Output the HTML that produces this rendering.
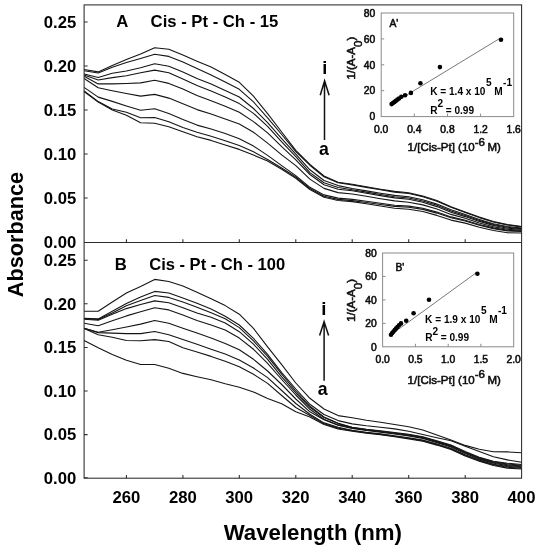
<!DOCTYPE html>
<html><head><meta charset="utf-8"><title>Absorbance spectra</title>
<style>html,body{margin:0;padding:0;background:#fff}svg{display:block}text{font-family:"Liberation Sans",Arial,sans-serif;fill:#000}.b{font-weight:bold}.c{fill:none;stroke:#151515;stroke-width:1.1;stroke-linejoin:round}.ax{fill:none;stroke:#2a2a2a;stroke-width:1.05}.g{fill:none;stroke:#8a8a8a;stroke-width:1}.s{font-size:10.3px;stroke:#111;stroke-width:0.55px}.l{font-size:11.5px}.k{font-weight:bold;font-size:10.1px;stroke:none}</style></head><body>
<svg width="539" height="550" viewBox="0 0 539 550">
<rect width="539" height="550" fill="#fff"/>
<g class="c">
<polyline points="84.1,91.5 98.2,102.0 112.3,109.9 126.4,115.3 140.6,122.8 154.7,123.2 168.8,126.7 182.9,131.8 197.0,136.8 211.1,140.4 225.2,145.0 239.3,149.4 253.5,155.1 267.6,161.0 281.7,169.2 295.8,178.3 309.9,189.5 324.0,197.3 338.1,200.5 352.2,201.6 366.4,203.8 380.5,206.0 394.6,208.2 408.7,209.3 422.8,211.5 436.9,215.4 451.0,220.1 465.2,223.1 479.3,227.3 493.4,230.5 507.5,232.8 521.6,233.0"/>
<polyline points="84.1,91.0 98.2,101.6 112.3,109.0 126.4,112.3 140.6,117.7 154.7,117.5 168.8,121.8 182.9,127.6 197.0,132.2 211.1,136.3 225.2,140.7 239.3,145.6 253.5,151.8 267.6,159.5 281.7,168.0 295.8,177.0 309.9,188.5 324.0,196.2 338.1,199.4 352.2,200.6 366.4,202.5 380.5,204.5 394.6,206.4 408.7,207.3 422.8,209.4 436.9,213.1 451.0,217.8 465.2,221.0 479.3,225.2 493.4,228.6 507.5,230.9 521.6,231.4"/>
<polyline points="84.1,87.4 98.2,97.1 112.3,101.4 126.4,106.0 140.6,110.3 154.7,108.8 168.8,113.6 182.9,119.4 197.0,125.1 211.1,129.0 225.2,133.5 239.3,138.7 253.5,146.1 267.6,155.4 281.7,165.6 295.8,175.6 309.9,187.3 324.0,194.9 338.1,198.1 352.2,199.4 366.4,201.3 380.5,203.3 394.6,205.2 408.7,206.1 422.8,208.3 436.9,212.1 451.0,216.9 465.2,220.2 479.3,224.5 493.4,227.9 507.5,230.3 521.6,231.0"/>
<polyline points="84.1,78.5 98.2,87.8 112.3,90.7 126.4,93.5 140.6,96.1 154.7,94.4 168.8,98.1 182.9,103.8 197.0,109.6 211.1,114.0 225.2,119.1 239.3,124.0 253.5,132.2 267.6,143.1 281.7,154.9 295.8,165.6 309.9,179.1 324.0,188.4 338.1,192.6 352.2,194.0 366.4,196.3 380.5,198.7 394.6,200.9 408.7,202.2 422.8,204.9 436.9,209.0 451.0,214.4 465.2,218.3 479.3,223.0 493.4,226.7 507.5,229.3 521.6,230.3"/>
<polyline points="84.1,76.3 98.2,83.9 112.3,83.9 126.4,83.5 140.6,82.9 154.7,80.2 168.8,83.4 182.9,89.1 197.0,95.6 211.1,100.8 225.2,106.2 239.3,112.2 253.5,121.6 267.6,132.9 281.7,146.7 295.8,159.8 309.9,174.5 324.0,184.7 338.1,189.3 352.2,190.7 366.4,193.2 380.5,195.6 394.6,197.9 408.7,199.3 422.8,202.2 436.9,206.6 451.0,212.2 465.2,216.6 479.3,221.4 493.4,225.4 507.5,228.2 521.6,229.4"/>
<polyline points="84.1,75.0 98.2,80.0 112.3,77.6 126.4,75.7 140.6,72.7 154.7,70.1 168.8,72.7 182.9,79.0 197.0,85.5 211.1,91.0 225.2,97.0 239.3,103.6 253.5,113.4 267.6,126.4 281.7,141.8 295.8,156.6 309.9,172.6 324.0,182.8 338.1,187.5 352.2,189.7 366.4,192.1 380.5,194.5 394.6,196.7 408.7,198.0 422.8,201.0 436.9,205.3 451.0,211.0 465.2,215.5 479.3,220.4 493.4,224.5 507.5,227.3 521.6,228.7"/>
<polyline points="84.1,74.0 98.2,77.5 112.3,73.3 126.4,71.0 140.6,67.8 154.7,63.8 168.8,66.2 182.9,71.9 197.0,78.5 211.1,84.0 225.2,90.6 239.3,97.0 253.5,108.5 267.6,122.7 281.7,138.6 295.8,154.1 309.9,169.8 324.0,180.5 338.1,185.6 352.2,188.5 366.4,190.9 380.5,193.2 394.6,195.4 408.7,196.7 422.8,199.7 436.9,204.1 451.0,209.8 465.2,214.5 479.3,219.5 493.4,223.7 507.5,226.5 521.6,228.1"/>
<polyline points="84.1,70.8 98.2,73.0 112.3,67.2 126.4,62.5 140.6,58.5 154.7,54.2 168.8,56.4 182.9,62.1 197.0,68.6 211.1,74.9 225.2,82.0 239.3,89.3 253.5,101.9 267.6,117.8 281.7,134.5 295.8,151.6 309.9,165.2 324.0,176.7 338.1,182.8 352.2,184.9 366.4,187.4 380.5,189.8 394.6,192.1 408.7,193.5 422.8,196.7 436.9,201.2 451.0,207.3 465.2,212.4 479.3,217.6 493.4,222.0 507.5,225.0 521.6,226.9"/>
<polyline points="84.1,69.5 98.2,71.9 112.3,65.4 126.4,59.5 140.6,53.9 154.7,47.7 168.8,49.3 182.9,55.1 197.0,61.3 211.1,67.0 225.2,74.6 239.3,82.3 253.5,96.2 267.6,113.7 281.7,132.0 295.8,150.3 309.9,164.5 324.0,176.0 338.1,182.2 352.2,184.3 366.4,186.8 380.5,189.2 394.6,191.4 408.7,192.8 422.8,196.1 436.9,200.6 451.0,206.7 465.2,211.9 479.3,217.1 493.4,221.6 507.5,224.6 521.6,226.6"/>
<polyline points="84.1,340.5 98.2,347.8 112.3,354.4 126.4,360.3 140.6,364.5 154.7,364.5 168.8,368.3 182.9,373.4 197.0,376.7 211.1,379.7 225.2,383.7 239.3,387.2 253.5,392.0 267.6,398.4 281.7,403.8 295.8,411.8 309.9,417.0 324.0,424.5 338.1,429.0 352.2,431.2 366.4,433.2 380.5,434.8 394.6,436.8 408.7,438.9 422.8,441.2 436.9,445.1 451.0,449.6 465.2,456.0 479.3,461.2 493.4,465.5 507.5,468.1 521.6,469.0"/>
<polyline points="84.1,328.5 98.2,334.7 112.3,337.2 126.4,340.5 140.6,340.8 154.7,339.6 168.8,341.5 182.9,347.8 197.0,352.0 211.1,356.4 225.2,361.2 239.3,366.8 253.5,374.3 267.6,383.4 281.7,395.5 295.8,407.5 309.9,415.6 324.0,423.7 338.1,428.1 352.2,430.8 366.4,432.8 380.5,434.4 394.6,436.3 408.7,438.3 422.8,440.6 436.9,444.5 451.0,449.0 465.2,455.3 479.3,460.6 493.4,464.8 507.5,467.3 521.6,468.2"/>
<polyline points="84.1,328.2 98.2,332.6 112.3,333.1 126.4,333.6 140.6,333.6 154.7,331.5 168.8,334.7 182.9,339.6 197.0,344.3 211.1,349.2 225.2,354.0 239.3,359.9 253.5,368.0 267.6,377.6 281.7,390.5 295.8,403.5 309.9,414.3 324.0,422.9 338.1,427.3 352.2,430.4 366.4,432.4 380.5,433.9 394.6,435.8 408.7,437.8 422.8,440.1 436.9,444.0 451.0,448.3 465.2,454.7 479.3,460.0 493.4,464.2 507.5,466.5 521.6,467.5"/>
<polyline points="84.1,328.2 98.2,332.3 112.3,329.8 126.4,327.0 140.6,324.1 154.7,320.5 168.8,323.3 182.9,328.2 197.0,333.1 211.1,338.0 225.2,343.5 239.3,349.8 253.5,359.3 267.6,371.0 281.7,384.5 295.8,399.0 309.9,411.8 324.0,419.8 338.1,425.3 352.2,428.4 366.4,430.5 380.5,432.1 394.6,434.0 408.7,435.9 422.8,438.4 436.9,442.6 451.0,446.9 465.2,453.4 479.3,459.1 493.4,463.2 507.5,465.6 521.6,466.8"/>
<polyline points="84.1,323.3 98.2,325.7 112.3,320.8 126.4,315.9 140.6,311.8 154.7,307.7 168.8,309.9 182.9,315.1 197.0,320.5 211.1,325.0 225.2,330.1 239.3,338.1 253.5,349.3 267.6,363.4 281.7,379.5 295.8,395.0 309.9,409.3 324.0,419.2 338.1,424.9 352.2,428.0 366.4,430.0 380.5,431.7 394.6,433.5 408.7,435.3 422.8,437.8 436.9,442.0 451.0,446.3 465.2,452.8 479.3,458.5 493.4,462.5 507.5,464.8 521.6,466.0"/>
<polyline points="84.1,319.2 98.2,320.2 112.3,314.3 126.4,308.6 140.6,304.5 154.7,300.9 168.8,302.8 182.9,307.7 197.0,313.0 211.1,317.3 225.2,323.0 239.3,331.7 253.5,344.2 267.6,359.3 281.7,376.8 295.8,392.8 309.9,407.3 324.0,417.6 338.1,423.6 352.2,427.6 366.4,429.6 380.5,431.2 394.6,433.0 408.7,434.8 422.8,437.3 436.9,441.5 451.0,445.6 465.2,452.2 479.3,457.9 493.4,461.9 507.5,464.0 521.6,465.3"/>
<polyline points="84.1,318.7 98.2,319.5 112.3,313.0 126.4,305.8 140.6,300.4 154.7,295.5 168.8,297.4 182.9,302.0 197.0,307.2 211.1,312.8 225.2,318.8 239.3,327.6 253.5,340.9 267.6,356.4 281.7,374.2 295.8,391.0 309.9,406.3 324.0,417.0 338.1,423.2 352.2,427.2 366.4,429.2 380.5,430.8 394.6,432.5 408.7,434.2 422.8,436.7 436.9,440.9 451.0,445.0 465.2,451.5 479.3,457.3 493.4,461.2 507.5,463.2 521.6,464.5"/>
<polyline points="84.1,318.4 98.2,318.9 112.3,311.3 126.4,303.6 140.6,297.1 154.7,291.4 168.8,293.0 182.9,297.9 197.0,303.2 211.1,308.9 225.2,316.2 239.3,325.0 253.5,338.4 267.6,354.3 281.7,372.5 295.8,389.0 309.9,404.3 324.0,414.5 338.1,420.6 352.2,423.9 366.4,425.8 380.5,427.3 394.6,428.9 408.7,431.2 422.8,434.5 436.9,437.8 451.0,440.8 465.2,446.3 479.3,451.5 493.4,456.7 507.5,459.9 521.6,462.3"/>
<polyline points="84.1,311.3 98.2,311.3 112.3,302.0 126.4,293.0 140.6,286.5 154.7,279.4 168.8,281.5 182.9,286.1 197.0,292.2 211.1,298.7 225.2,305.6 239.3,314.2 253.5,328.4 267.6,346.8 281.7,364.7 295.8,383.0 309.9,398.3 324.0,409.0 338.1,415.6 352.2,417.8 366.4,420.3 380.5,422.3 394.6,424.5 408.7,426.7 422.8,430.0 436.9,435.0 451.0,440.0 465.2,445.4 479.3,449.3 493.4,451.7 507.5,451.9 521.6,452.8"/>
</g>
<g class="ax"><rect x="84.1" y="4.9" width="437.5" height="473.3"/>
<line x1="84.1" y1="242.5" x2="521.6" y2="242.5"/>
<path d="M84.1 198.0h3.5M84.1 154.0h3.5M84.1 110.0h3.5M84.1 66.0h3.5M84.1 22.0h3.5M84.1 477.8h3.5M84.1 434.6h3.5M84.1 391.0h3.5M84.1 347.4h3.5M84.1 303.8h3.5M84.1 260.2h3.5M126.4 242.5v-3.2M126.4 478.2v-3.2M182.9 242.5v-3.2M182.9 478.2v-3.2M239.3 242.5v-3.2M239.3 478.2v-3.2M295.8 242.5v-3.2M295.8 478.2v-3.2M352.2 242.5v-3.2M352.2 478.2v-3.2M408.7 242.5v-3.2M408.7 478.2v-3.2M465.2 242.5v-3.2M465.2 478.2v-3.2"/></g>
<g class="b" font-size="16.7" text-anchor="end">
<text x="76.3" y="248.2">0.00</text>
<text x="76.3" y="204.2">0.05</text>
<text x="76.3" y="160.2">0.10</text>
<text x="76.3" y="116.2">0.15</text>
<text x="76.3" y="72.2">0.20</text>
<text x="76.3" y="28.2">0.25</text>
<text x="76.3" y="440.4">0.05</text>
<text x="76.3" y="396.8">0.10</text>
<text x="76.3" y="353.2">0.15</text>
<text x="76.3" y="309.6">0.20</text>
<text x="76.3" y="266.0">0.25</text>
<text x="76.3" y="484.0">0.00</text>
</g>
<g class="b" font-size="16.7" text-anchor="middle">
<text x="126.3" y="502.6">260</text>
<text x="182.8" y="502.6">280</text>
<text x="239.2" y="502.6">300</text>
<text x="295.7" y="502.6">320</text>
<text x="352.1" y="502.6">340</text>
<text x="408.6" y="502.6">360</text>
<text x="465.1" y="502.6">380</text>
<text x="521.5" y="502.6">400</text>
</g>
<text class="b" font-size="22.5" x="223.7" y="539.9" textLength="178.2" lengthAdjust="spacingAndGlyphs">Wavelength (nm)</text>
<text class="b" font-size="22.5" transform="translate(23.4 297.2) rotate(-90)" textLength="125.4" lengthAdjust="spacingAndGlyphs">Absorbance</text>
<g class="b" font-size="16.7">
<text x="116.3" y="27">A</text>
<text x="150.6" y="27" textLength="127.8" lengthAdjust="spacingAndGlyphs">Cis - Pt - Ch - 15</text>
<text x="114.7" y="270.4">B</text>
<text x="149.2" y="270.4" textLength="136" lengthAdjust="spacingAndGlyphs">Cis - Pt - Ch - 100</text>
</g>
<g class="b" font-size="18" text-anchor="middle">
<text x="324.8" y="73.6">i</text><text x="323.9" y="154.6" font-size="17.7">a</text>
<text x="323.8" y="314.8" font-size="18.6">i</text><text x="322.7" y="395.3" font-size="17.7">a</text></g>
<g fill="none" stroke="#111" stroke-width="1.5">
<path d="M324.5 140V81M320.2 95.3L324.6 80.8L329.1 95.3"/>
<path d="M324.1 380.7V322M319.6 335.6L324.1 321.6L328.6 335.6"/>
</g>
<g class="g"><rect x="381.2" y="13" width="132.50000000000006" height="103.6" fill="#fff"/>
<path d="M381.2 90.7h3M381.2 64.8h3M381.2 38.9h3M414.3 116.6v-3M447.5 116.6v-3M480.6 116.6v-3"/></g>
<line x1="391.5" y1="104.3" x2="500" y2="38.3" stroke="#555" stroke-width="0.8"/>
<g fill="#000"><circle cx="391.6" cy="104.1" r="2.3"/><circle cx="393" cy="103" r="2.3"/><circle cx="394.5" cy="101.9" r="2.3"/><circle cx="396" cy="100.8" r="2.3"/><circle cx="397.5" cy="99.6" r="2.3"/><circle cx="399" cy="98.5" r="2.3"/><circle cx="401.3" cy="96.8" r="2.3"/><circle cx="405.1" cy="95.2" r="2.3"/><circle cx="410.9" cy="92.9" r="2.3"/><circle cx="420.4" cy="83.3" r="2.3"/><circle cx="439.9" cy="67.1" r="2.3"/><circle cx="501" cy="39.7" r="2.3"/></g>
<g class="s" text-anchor="end">
<text x="375.3" y="120.3">0</text>
<text x="375.3" y="94.4">20</text>
<text x="375.3" y="68.5">40</text>
<text x="375.3" y="42.6">60</text>
<text x="375.3" y="16.7">80</text>
</g><g class="s" text-anchor="middle">
<text x="381.2" y="133.2">0.0</text>
<text x="414.3" y="133.2">0.4</text>
<text x="447.5" y="133.2">0.8</text>
<text x="480.6" y="133.2">1.2</text>
<text x="513.7" y="133.2">1.6</text>
</g><g class="s">
<text x="389.5" y="26.7">A'</text>
<text class="k" x="430.2" y="94.5">K = 1.4 x 10<tspan dx="0.6" dy="-8.8">5</tspan><tspan dx="2.6" dy="8.8">M</tspan><tspan dx="0.3" dy="-8.8">-1</tspan></text>
<text class="k" x="430.2" y="113.5">R<tspan dy="-6.6">2</tspan><tspan dx="2.6" dy="6.6">= 0.99</tspan></text>
<text class="l" x="407.6" y="151.3">1/[Cis-Pt] (10<tspan dy="-5.6">-6</tspan><tspan dx="2.6" dy="5.6">M)</tspan></text>
<text class="l" transform="translate(354.8 79.6) rotate(-90)">1/(A-A<tspan dy="7.1">0</tspan><tspan dy="-7.1">)</tspan></text>
</g>
<g class="g"><rect x="382.6" y="253" width="131.10000000000002" height="93.80000000000001" fill="#fff"/>
<path d="M382.6 323.4h3M382.6 299.9h3M382.6 276.4h3M415.4 346.8v-3M448.2 346.8v-3M480.9 346.8v-3"/></g>
<line x1="391" y1="334.7" x2="477" y2="272.2" stroke="#555" stroke-width="0.8"/>
<g fill="#000"><circle cx="391" cy="334.7" r="2.3"/><circle cx="392.2" cy="333.1" r="2.3"/><circle cx="393.5" cy="331.6" r="2.3"/><circle cx="394.8" cy="330" r="2.3"/><circle cx="396" cy="328.5" r="2.3"/><circle cx="397.5" cy="327" r="2.3"/><circle cx="399" cy="325.3" r="2.3"/><circle cx="401" cy="323.4" r="2.3"/><circle cx="406.2" cy="320.8" r="2.3"/><circle cx="413.6" cy="313.3" r="2.3"/><circle cx="429" cy="299.7" r="2.3"/><circle cx="477.4" cy="273.7" r="2.3"/></g>
<g class="s" text-anchor="end">
<text x="376.7" y="350.5">0</text>
<text x="376.7" y="327.1">20</text>
<text x="376.7" y="303.6">40</text>
<text x="376.7" y="280.1">60</text>
<text x="376.7" y="256.7">80</text>
</g><g class="s" text-anchor="middle">
<text x="382.6" y="363.0">0.0</text>
<text x="415.4" y="363.0">0.5</text>
<text x="448.2" y="363.0">1.0</text>
<text x="480.9" y="363.0">1.5</text>
<text x="513.7" y="363.0">2.0</text>
</g><g class="s">
<text x="395.4" y="270.7">B'</text>
<text class="k" x="425.1" y="322.8">K = 1.9 x 10<tspan dx="0.6" dy="-8.8">5</tspan><tspan dx="2.6" dy="8.8">M</tspan><tspan dx="0.3" dy="-8.8">-1</tspan></text>
<text class="k" x="425.2" y="341.4">R<tspan dy="-6.6">2</tspan><tspan dx="2.6" dy="6.6">= 0.99</tspan></text>
<text class="l" x="407.6" y="383.7">1/[Cis-Pt] (10<tspan dy="-5.6">-6</tspan><tspan dx="2.6" dy="5.6">M)</tspan></text>
<text class="l" transform="translate(354.8 321.8) rotate(-90)">1/(A-A<tspan dy="7.1">0</tspan><tspan dy="-7.1">)</tspan></text>
</g>
</svg></body></html>
